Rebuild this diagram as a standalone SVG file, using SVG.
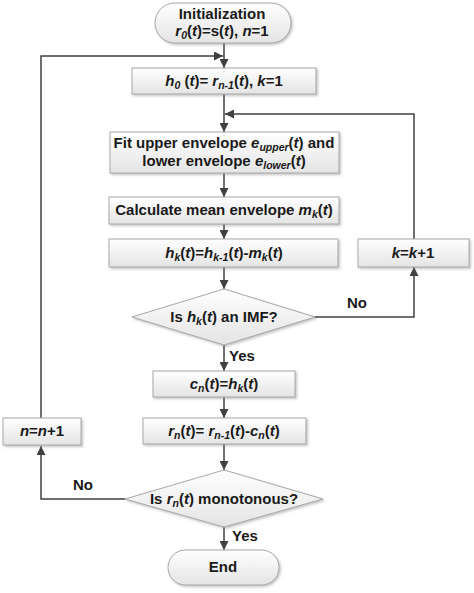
<svg xmlns="http://www.w3.org/2000/svg" width="474" height="593" viewBox="0 0 474 593">
<defs>
<linearGradient id="g" x1="0" y1="0" x2="0" y2="1">
<stop offset="0" stop-color="#ffffff"/>
<stop offset="1" stop-color="#e4e4e4"/>
</linearGradient>
<filter id="sh" x="-10%" y="-20%" width="130%" height="150%">
<feDropShadow dx="1.5" dy="1.5" stdDeviation="1" flood-color="#888" flood-opacity="0.5"/>
</filter>
<marker id="ah" viewBox="0 0 10 10" refX="10" refY="5" markerWidth="9" markerHeight="9" markerUnits="userSpaceOnUse" orient="auto">
<path d="M0,0 L10,5 L0,10 Z" fill="#404040"/>
</marker>
</defs>
<style>
.b{fill:url(#g);stroke:#a8a8a8;stroke-width:1;filter:url(#sh)}
.t{font-family:"Liberation Sans",Arial,sans-serif;font-weight:bold;font-size:15px;fill:#1a1a1a;text-anchor:middle}
.l{font-family:"Liberation Sans",Arial,sans-serif;font-weight:bold;font-size:15px;fill:#1a1a1a}
.i{font-style:italic}
.s{font-style:italic;font-size:10.5px}
.c{fill:none;stroke:#404040;stroke-width:1.5}
</style>
<g id="connectors">
<path class="c" d="M224,43 V68" marker-end="url(#ah)"/>
<path class="c" d="M41,418 V56 H223" marker-end="url(#ah)"/>
<path class="c" d="M224,94 V132" marker-end="url(#ah)"/>
<path class="c" d="M414,239 V114 H225" marker-end="url(#ah)"/>
<path class="c" d="M224,173 V197" marker-end="url(#ah)"/>
<path class="c" d="M224,224 V239" marker-end="url(#ah)"/>
<path class="c" d="M224,267 V289" marker-end="url(#ah)"/>
<path class="c" d="M315,317 H414 V267" marker-end="url(#ah)"/>
<path class="c" d="M224,345 V371" marker-end="url(#ah)"/>
<path class="c" d="M224,397 V418" marker-end="url(#ah)"/>
<path class="c" d="M224,444 V470" marker-end="url(#ah)"/>
<path class="c" d="M125,499 H41 V446" marker-end="url(#ah)"/>
<path class="c" d="M224,527 V550" marker-end="url(#ah)"/>
<text class="l" x="347" y="308">No</text>
<text class="l" x="73" y="490">No</text>
<text class="l" x="229" y="361">Yes</text>
<text class="l" x="232" y="541">Yes</text>
</g>
<g id="init">
<rect class="b" x="155" y="3" width="136" height="40" rx="20"/>
<text class="t" x="222" y="19">Initialization</text>
<text class="t" x="222" y="36"><tspan class="i">r</tspan><tspan class="s" dy="3">0</tspan><tspan dy="-3">(</tspan><tspan class="i">t</tspan>)=s(<tspan class="i">t</tspan>), <tspan class="i">n</tspan>=1</text>
</g>
<g id="h0">
<rect class="b" x="132" y="68" width="184" height="26"/>
<text class="t" x="224" y="86"><tspan class="i">h</tspan><tspan class="s" dy="3">0</tspan><tspan dy="-3"> (</tspan><tspan class="i">t</tspan>)= <tspan class="i">r</tspan><tspan class="s" dy="3">n-1</tspan><tspan dy="-3">(</tspan><tspan class="i">t</tspan>), <tspan class="i">k</tspan>=1</text>
</g>
<g id="fit">
<rect class="b" x="110" y="132" width="229" height="41"/>
<text class="t" x="224" y="148">Fit upper envelope <tspan class="i">e</tspan><tspan class="s" dy="3">upper</tspan><tspan dy="-3">(</tspan><tspan class="i">t</tspan>) and</text>
<text class="t" x="224" y="166">lower envelope <tspan class="i">e</tspan><tspan class="s" dy="3">lower</tspan><tspan dy="-3">(</tspan><tspan class="i">t</tspan>)</text>
</g>
<g id="calc">
<rect class="b" x="109" y="197" width="230" height="27"/>
<text class="t" x="224" y="215">Calculate mean envelope <tspan class="i">m</tspan><tspan class="s" dy="3">k</tspan><tspan dy="-3">(</tspan><tspan class="i">t</tspan>)</text>
</g>
<g id="hk">
<rect class="b" x="109" y="239" width="229" height="28"/>
<text class="t" x="224" y="258"><tspan class="i">h</tspan><tspan class="s" dy="3">k</tspan><tspan dy="-3">(</tspan><tspan class="i">t</tspan>)=<tspan class="i">h</tspan><tspan class="s" dy="3">k-1</tspan><tspan dy="-3">(</tspan><tspan class="i">t</tspan>)-<tspan class="i">m</tspan><tspan class="s" dy="3">k</tspan><tspan dy="-3">(</tspan><tspan class="i">t</tspan>)</text>
</g>
<g id="kinc">
<rect class="b" x="358" y="239" width="111" height="28"/>
<text class="t" x="413" y="258"><tspan class="i">k</tspan>=<tspan class="i">k</tspan>+1</text>
</g>
<g id="imf">
<polygon class="b" points="224,289 315,317 224,345 132,317"/>
<text class="t" x="224" y="322">Is <tspan class="i">h</tspan><tspan class="s" dy="3">k</tspan><tspan dy="-3">(</tspan><tspan class="i">t</tspan>) an IMF?</text>
</g>
<g id="cn">
<rect class="b" x="153" y="371" width="142" height="26"/>
<text class="t" x="224" y="389"><tspan class="i">c</tspan><tspan class="s" dy="3">n</tspan><tspan dy="-3">(</tspan><tspan class="i">t</tspan>)=<tspan class="i">h</tspan><tspan class="s" dy="3">k</tspan><tspan dy="-3">(</tspan><tspan class="i">t</tspan>)</text>
</g>
<g id="rn">
<rect class="b" x="143" y="418" width="163" height="26"/>
<text class="t" x="224" y="436"><tspan class="i">r</tspan><tspan class="s" dy="3">n</tspan><tspan dy="-3">(</tspan><tspan class="i">t</tspan>)= <tspan class="i">r</tspan><tspan class="s" dy="3">n-1</tspan><tspan dy="-3">(</tspan><tspan class="i">t</tspan>)-<tspan class="i">c</tspan><tspan class="s" dy="3">n</tspan><tspan dy="-3">(</tspan><tspan class="i">t</tspan>)</text>
</g>
<g id="ninc">
<rect class="b" x="3" y="418" width="78" height="27"/>
<text class="t" x="42" y="436"><tspan class="i">n</tspan>=<tspan class="i">n</tspan>+1</text>
</g>
<g id="mono">
<polygon class="b" points="224,470 323,499 224,527 125,499"/>
<text class="t" x="224" y="504">Is <tspan class="i">r</tspan><tspan class="s" dy="3">n</tspan><tspan dy="-3">(</tspan><tspan class="i">t</tspan>) monotonous?</text>
</g>
<g id="end">
<rect class="b" x="168" y="550" width="111" height="35" rx="17.5"/>
<text class="t" x="223" y="572">End</text>
</g>
</svg>
